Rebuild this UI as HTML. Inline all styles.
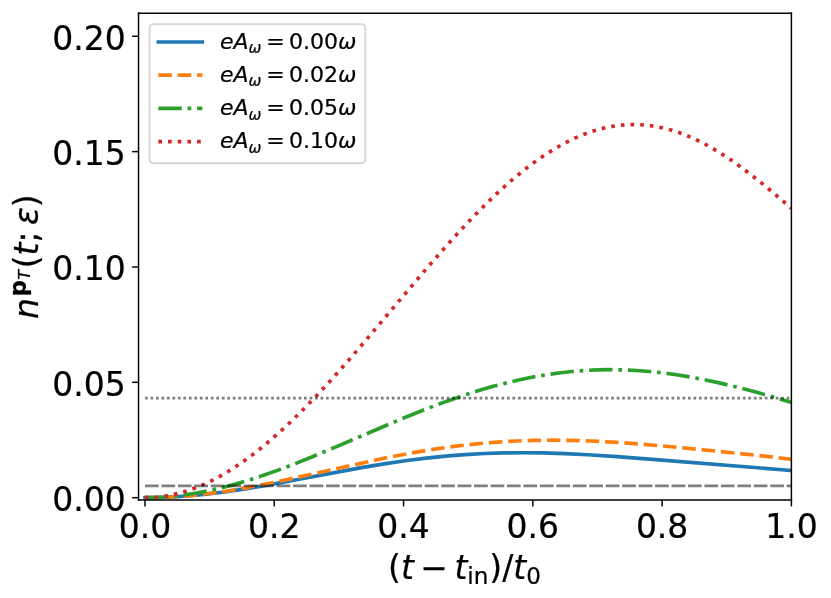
<!DOCTYPE html>
<html lang="en">
<head>
<meta charset="utf-8">
<title>n(t; eps) plot</title>
<style>
html,body{margin:0;padding:0;background:#fff;}
body{width:831px;height:598px;overflow:hidden;font-family:"DejaVu Sans","Liberation Sans",sans-serif;}
svg{display:block;}
svg text{stroke:#000;stroke-width:0.12;}
</style>
</head>
<body>
<svg width="831" height="598" viewBox="0 0 453.272727 326.181818" role="img" aria-label="Line chart of n(t; eps) versus (t - t_in)/t_0">
 <defs>
  <style type="text/css">*{stroke-linejoin: round; stroke-linecap: butt}</style>
 </defs>
 <g id="figure_1">
  <g id="patch_1">
   <path d="M 0 326.181818 
L 453.272727 326.181818 
L 453.272727 0 
L 0 0 
z
" style="fill: #ffffff"/>
  </g>
  <g id="axes_1">
   <g id="patch_2">
    <path d="M 75.565091 272.731227 
L 431.672727 272.731227 
L 431.672727 7.187727 
L 75.565091 7.187727 
z
" style="fill: #ffffff"/>
   </g>
   <g id="matplotlib.axis_1">
    <g id="xtick_1">
     <g id="line2d_1">
      <defs>
       <path id="mc9a33ef753" d="M 0 0 
L 0 3.5 
" style="stroke: #000000; stroke-width: 0.8"/>
      </defs>
      <g>
       <use href="#mc9a33ef753" x="79.090909" y="272.731227" style="stroke: #000000; stroke-width: 0.8"/>
      </g>
     </g>
     <g id="text_1">
      <text style="font-size: 18px; font-family: 'DejaVu Sans', 'Liberation Sans', sans-serif; text-anchor: middle" x="79.090909" y="293.408415" transform="rotate(0 79.090909 293.408415)">0.0</text>
     </g>
    </g>
    <g id="xtick_2">
     <g id="line2d_2">
      <g>
       <use href="#mc9a33ef753" x="149.607273" y="272.731227" style="stroke: #000000; stroke-width: 0.8"/>
      </g>
     </g>
     <g id="text_2">
      <text style="font-size: 18px; font-family: 'DejaVu Sans', 'Liberation Sans', sans-serif; text-anchor: middle" x="149.607273" y="293.408415" transform="rotate(0 149.607273 293.408415)">0.2</text>
     </g>
    </g>
    <g id="xtick_3">
     <g id="line2d_3">
      <g>
       <use href="#mc9a33ef753" x="220.123636" y="272.731227" style="stroke: #000000; stroke-width: 0.8"/>
      </g>
     </g>
     <g id="text_3">
      <text style="font-size: 18px; font-family: 'DejaVu Sans', 'Liberation Sans', sans-serif; text-anchor: middle" x="220.123636" y="293.408415" transform="rotate(0 220.123636 293.408415)">0.4</text>
     </g>
    </g>
    <g id="xtick_4">
     <g id="line2d_4">
      <g>
       <use href="#mc9a33ef753" x="290.64" y="272.731227" style="stroke: #000000; stroke-width: 0.8"/>
      </g>
     </g>
     <g id="text_4">
      <text style="font-size: 18px; font-family: 'DejaVu Sans', 'Liberation Sans', sans-serif; text-anchor: middle" x="290.64" y="293.408415" transform="rotate(0 290.64 293.408415)">0.6</text>
     </g>
    </g>
    <g id="xtick_5">
     <g id="line2d_5">
      <g>
       <use href="#mc9a33ef753" x="361.156364" y="272.731227" style="stroke: #000000; stroke-width: 0.8"/>
      </g>
     </g>
     <g id="text_5">
      <text style="font-size: 18px; font-family: 'DejaVu Sans', 'Liberation Sans', sans-serif; text-anchor: middle" x="361.156364" y="293.408415" transform="rotate(0 361.156364 293.408415)">0.8</text>
     </g>
    </g>
    <g id="xtick_6">
     <g id="line2d_6">
      <g>
       <use href="#mc9a33ef753" x="431.672727" y="272.731227" style="stroke: #000000; stroke-width: 0.8"/>
      </g>
     </g>
     <g id="text_6">
      <text style="font-size: 18px; font-family: 'DejaVu Sans', 'Liberation Sans', sans-serif; text-anchor: middle" x="431.672727" y="293.408415" transform="rotate(0 431.672727 293.408415)">1.0</text>
     </g>
    </g>
    <g id="text_7">
     <!-- $(t-t_{\rm in})/t_0$ -->
     <g transform="translate(211.678909 315.919949)">
      <text>
       <tspan x="0" y="-0.3438" style="font-size: 18px; font-family: 'DejaVu Sans', 'Liberation Sans', sans-serif">(</tspan>
       <tspan x="7.0225" y="-0.3438" style="font-style: oblique; font-size: 18px; font-family: 'DejaVu Sans', 'Liberation Sans', sans-serif">t</tspan>
       <tspan x="17.5869" y="-0.3438" style="font-size: 18px; font-family: 'DejaVu Sans', 'Liberation Sans', sans-serif">−</tspan>
       <tspan x="36.1758" y="-0.3438" style="font-style: oblique; font-size: 18px; font-family: 'DejaVu Sans', 'Liberation Sans', sans-serif">t</tspan>
       <tspan x="43.2334" y="2.6094" style="font-size: 12.6px; font-family: 'DejaVu Sans', 'Liberation Sans', sans-serif">i</tspan>
       <tspan x="46.7341" y="2.6094" style="font-size: 12.6px; font-family: 'DejaVu Sans', 'Liberation Sans', sans-serif">n</tspan>
       <tspan x="55.212" y="-0.3438" style="font-size: 18px; font-family: 'DejaVu Sans', 'Liberation Sans', sans-serif">)</tspan>
       <tspan x="62.2345" y="-0.3438" style="font-size: 18px; font-family: 'DejaVu Sans', 'Liberation Sans', sans-serif">/</tspan>
       <tspan x="68.2989" y="-0.3438" style="font-style: oblique; font-size: 18px; font-family: 'DejaVu Sans', 'Liberation Sans', sans-serif">t</tspan>
       <tspan x="75.3565" y="2.6094" style="font-size: 12.6px; font-family: 'DejaVu Sans', 'Liberation Sans', sans-serif">0</tspan>
      </text>
     </g>
    </g>
   </g>
   <g id="matplotlib.axis_2">
    <g id="ytick_1">
     <g id="line2d_7">
      <defs>
       <path id="m723d47c01b" d="M 0 0 
L -3.5 0 
" style="stroke: #000000; stroke-width: 0.8"/>
      </defs>
      <g>
       <use href="#m723d47c01b" x="75.565091" y="271.472727" style="stroke: #000000; stroke-width: 0.8"/>
      </g>
     </g>
     <g id="text_8">
      <text style="font-size: 18px; font-family: 'DejaVu Sans', 'Liberation Sans', sans-serif; text-anchor: end" x="68.565091" y="278.80223" transform="rotate(0 68.565091 278.80223)">0.00</text>
     </g>
    </g>
    <g id="ytick_2">
     <g id="line2d_8">
      <g>
       <use href="#m723d47c01b" x="75.565091" y="208.547727" style="stroke: #000000; stroke-width: 0.8"/>
      </g>
     </g>
     <g id="text_9">
      <text style="font-size: 18px; font-family: 'DejaVu Sans', 'Liberation Sans', sans-serif; text-anchor: end" x="68.565091" y="215.87723" transform="rotate(0 68.565091 215.87723)">0.05</text>
     </g>
    </g>
    <g id="ytick_3">
     <g id="line2d_9">
      <g>
       <use href="#m723d47c01b" x="75.565091" y="145.622727" style="stroke: #000000; stroke-width: 0.8"/>
      </g>
     </g>
     <g id="text_10">
      <text style="font-size: 18px; font-family: 'DejaVu Sans', 'Liberation Sans', sans-serif; text-anchor: end" x="68.565091" y="152.95223" transform="rotate(0 68.565091 152.95223)">0.10</text>
     </g>
    </g>
    <g id="ytick_4">
     <g id="line2d_10">
      <g>
       <use href="#m723d47c01b" x="75.565091" y="82.697727" style="stroke: #000000; stroke-width: 0.8"/>
      </g>
     </g>
     <g id="text_11">
      <text style="font-size: 18px; font-family: 'DejaVu Sans', 'Liberation Sans', sans-serif; text-anchor: end" x="68.565091" y="90.02723" transform="rotate(0 68.565091 90.02723)">0.15</text>
     </g>
    </g>
    <g id="ytick_5">
     <g id="line2d_11">
      <g>
       <use href="#m723d47c01b" x="75.565091" y="19.772727" style="stroke: #000000; stroke-width: 0.8"/>
      </g>
     </g>
     <g id="text_12">
      <text style="font-size: 18px; font-family: 'DejaVu Sans', 'Liberation Sans', sans-serif; text-anchor: end" x="68.565091" y="27.10223" transform="rotate(0 68.565091 27.10223)">0.20</text>
     </g>
    </g>
    <g id="text_13">
     <!-- $n^{\mathbf{p}_T}(t;\varepsilon)$ -->
     <g transform="translate(20.743528 173.979477) rotate(-90)">
      <text>
       <tspan x="0" y="-0.0547" style="font-style: oblique; font-size: 18px; font-family: 'DejaVu Sans', 'Liberation Sans', sans-serif">n</tspan>
       <tspan x="12.2449" y="-6.2953" style="font-weight: 700; font-size: 12.6px; font-family: 'DejaVu Sans', 'Liberation Sans', sans-serif">p</tspan>
       <tspan x="21.3848" y="-4.2281" style="font-style: oblique; font-size: 8.82px; font-family: 'DejaVu Sans', 'Liberation Sans', sans-serif">T</tspan>
       <tspan x="27.6092" y="-0.0547" style="font-size: 18px; font-family: 'DejaVu Sans', 'Liberation Sans', sans-serif">(</tspan>
       <tspan x="34.6316" y="-0.0547" style="font-style: oblique; font-size: 18px; font-family: 'DejaVu Sans', 'Liberation Sans', sans-serif">t</tspan>
       <tspan x="41.6892" y="-0.0547" style="font-size: 18px; font-family: 'DejaVu Sans', 'Liberation Sans', sans-serif">;</tspan>
       <tspan x="51.2605" y="-0.0547" style="font-style: oblique; font-size: 18px; font-family: 'DejaVu Sans', 'Liberation Sans', sans-serif">ε</tspan>
       <tspan x="60.99" y="-0.0547" style="font-size: 18px; font-family: 'DejaVu Sans', 'Liberation Sans', sans-serif">)</tspan>
      </text>
     </g>
    </g>
   </g>
   <g id="line2d_12">
    <path d="M 79.090909 271.472727 
L 86.142545 271.383256 
L 94.957091 271.024718 
L 103.771636 270.405379 
L 112.586182 269.545495 
L 121.400727 268.47043 
L 131.978182 266.93779 
L 144.318545 264.886344 
L 160.184727 261.977639 
L 197.205818 255.063638 
L 209.546182 253.015556 
L 221.886545 251.208897 
L 232.464 249.889206 
L 243.041455 248.803727 
L 253.618909 247.965486 
L 264.196364 247.379159 
L 274.773818 247.041317 
L 285.351273 246.940927 
L 295.928727 247.060075 
L 308.269091 247.444501 
L 320.609455 248.049419 
L 336.475636 249.068469 
L 359.393455 250.810088 
L 428.146909 256.344277 
L 431.672727 256.693755 
L 431.672727 256.693755 
" clip-path="url(#pac0784d7d8)" style="fill: none; stroke: #1f77b4; stroke-width: 2; stroke-linecap: square"/>
   </g>
   <g id="line2d_13">
    <path d="M 79.090909 271.472727 
L 86.142545 271.37701 
L 93.194182 271.091557 
L 100.245818 270.621363 
L 109.060364 269.786145 
L 117.874909 268.695752 
L 126.689455 267.376098 
L 137.266909 265.532086 
L 147.844364 263.45784 
L 161.947636 260.438749 
L 211.309091 249.564702 
L 223.649455 247.212064 
L 234.226909 245.41882 
L 244.804364 243.86299 
L 255.381818 242.566 
L 264.196364 241.692778 
L 273.010909 241.012193 
L 281.825455 240.523945 
L 290.64 240.224134 
L 301.217455 240.102672 
L 311.794909 240.223725 
L 322.372364 240.563759 
L 334.712727 241.200201 
L 348.816 242.184309 
L 364.682182 243.53067 
L 385.837091 245.564142 
L 414.043636 248.498227 
L 431.672727 250.510147 
L 431.672727 250.510147 
" clip-path="url(#pac0784d7d8)" style="fill: none; stroke-dasharray: 7.37928,3.19104; stroke-dashoffset: 0; stroke: #ff7f0e; stroke-width: 2"/>
   </g>
   <g id="line2d_14">
    <path d="M 79.090909 271.472727 
L 84.379636 271.380332 
L 89.668364 271.105799 
L 94.957091 270.65372 
L 100.245818 270.029448 
L 107.297455 268.939781 
L 114.349091 267.570909 
L 121.400727 265.940687 
L 128.452364 264.068503 
L 135.504 261.975045 
L 142.555636 259.68208 
L 151.370182 256.56986 
L 160.184727 253.226923 
L 170.762182 248.976535 
L 184.865455 243.037573 
L 221.886545 227.276859 
L 232.464 223.054868 
L 243.041455 219.081088 
L 251.856 216.001357 
L 260.670545 213.164673 
L 269.485091 210.597814 
L 276.536727 208.754316 
L 283.588364 207.108593 
L 290.64 205.669245 
L 297.691636 204.443278 
L 304.743273 203.43608 
L 311.794909 202.651409 
L 318.846545 202.091393 
L 325.898182 201.75653 
L 332.949818 201.645705 
L 340.001455 201.756212 
L 347.053091 202.083786 
L 354.104727 202.62264 
L 361.156364 203.365519 
L 368.208 204.303752 
L 375.259636 205.427324 
L 384.074182 207.075109 
L 392.888727 208.970126 
L 401.703273 211.085128 
L 412.280727 213.871779 
L 424.621091 217.396244 
L 431.672727 219.509089 
L 431.672727 219.509089 
" clip-path="url(#pac0784d7d8)" style="fill: none; stroke-dasharray: 12.76416,3.19104,1.9944,3.19104; stroke-dashoffset: 0; stroke: #2ca02c; stroke-width: 2"/>
   </g>
   <g id="line2d_15">
    <path d="M 79.090909 271.472727 
L 82.616727 271.382628 
L 86.142545 271.113138 
L 89.668364 270.66565 
L 93.194182 270.041801 
L 96.72 269.243468 
L 100.245818 268.272764 
L 103.771636 267.132036 
L 107.297455 265.82386 
L 110.823273 264.351038 
L 116.112 261.839769 
L 121.400727 258.97602 
L 126.689455 255.771977 
L 131.978182 252.240858 
L 137.266909 248.396877 
L 142.555636 244.255206 
L 147.844364 239.83193 
L 153.133091 235.144007 
L 158.421818 230.209223 
L 165.473455 223.277701 
L 172.525091 215.986417 
L 179.576727 208.383476 
L 188.391273 198.517833 
L 198.968727 186.282148 
L 214.834909 167.495126 
L 232.464 146.694103 
L 243.041455 134.599035 
L 251.856 124.906693 
L 258.907636 117.481787 
L 265.959273 110.405908 
L 271.248 105.358437 
L 276.536727 100.556162 
L 281.825455 96.018798 
L 287.114182 91.765198 
L 292.402909 87.813258 
L 297.691636 84.179826 
L 302.980364 80.880601 
L 308.269091 77.930034 
L 313.557818 75.341227 
L 317.083636 73.822149 
L 320.609455 72.472132 
L 324.135273 71.293927 
L 327.661091 70.289945 
L 331.186909 69.462249 
L 334.712727 68.812536 
L 338.238545 68.342123 
L 341.764364 68.051931 
L 345.290182 67.942473 
L 348.816 68.013834 
L 352.341818 68.265661 
L 355.867636 68.697142 
L 359.393455 69.306993 
L 362.919273 70.093444 
L 366.445091 71.054219 
L 369.970909 72.18652 
L 373.496727 73.487015 
L 377.022545 74.951815 
L 382.311273 77.447175 
L 387.6 80.28451 
L 392.888727 83.443171 
L 398.177455 86.899269 
L 403.466182 90.625545 
L 408.754909 94.591229 
L 415.806545 100.191193 
L 424.621091 107.561485 
L 431.672727 113.624408 
L 431.672727 113.624408 
" clip-path="url(#pac0784d7d8)" style="fill: none; stroke-dasharray: 1.9944,3.29076; stroke-dashoffset: 0; stroke: #d62728; stroke-width: 2"/>
   </g>
   <g id="line2d_16">
    <path d="M 79.090909 217.092942 
L 431.672727 217.092942 
" clip-path="url(#pac0784d7d8)" style="fill: none; stroke-dasharray: 1.4958,1.4958; stroke-dashoffset: 0; stroke: #000000; stroke-opacity: 0.5; stroke-width: 1.5"/>
   </g>
   <g id="line2d_17">
    <path d="M 79.090909 265.016622 
L 431.672727 265.016622 
" clip-path="url(#pac0784d7d8)" style="fill: none; stroke-dasharray: 7.479,1.4958; stroke-dashoffset: 0; stroke: #000000; stroke-opacity: 0.5; stroke-width: 1.5"/>
   </g>
   <g id="patch_3">
    <path d="M 75.565091 272.731227 
L 75.565091 7.187727 
" style="fill: none; stroke: #000000; stroke-width: 0.8; stroke-linejoin: miter; stroke-linecap: square"/>
   </g>
   <g id="patch_4">
    <path d="M 431.672727 272.731227 
L 431.672727 7.187727 
" style="fill: none; stroke: #000000; stroke-width: 0.8; stroke-linejoin: miter; stroke-linecap: square"/>
   </g>
   <g id="patch_5">
    <path d="M 75.565091 272.731227 
L 431.672727 272.731227 
" style="fill: none; stroke: #000000; stroke-width: 0.8; stroke-linejoin: miter; stroke-linecap: square"/>
   </g>
   <g id="patch_6">
    <path d="M 75.565091 7.187727 
L 431.672727 7.187727 
" style="fill: none; stroke: #000000; stroke-width: 0.8; stroke-linejoin: miter; stroke-linecap: square"/>
   </g>
   <g id="legend_1">
    <g id="patch_7">
     <path d="M 83.965091 89.048727 
L 196.885091 89.048727 
Q 199.285091 89.048727 199.285091 86.648727 
L 199.285091 15.587727 
Q 199.285091 13.187727 196.885091 13.187727 
L 83.965091 13.187727 
Q 81.565091 13.187727 81.565091 15.587727 
L 81.565091 86.648727 
Q 81.565091 89.048727 83.965091 89.048727 
z
" style="fill: #ffffff; opacity: 0.8; stroke: #cccccc; stroke-linejoin: miter"/>
    </g>
    <g id="line2d_18">
     <path d="M 86.365091 22.905852 
L 98.365091 22.905852 
L 110.365091 22.905852 
" style="fill: none; stroke: #1f77b4; stroke-width: 2; stroke-linecap: square"/>
    </g>
    <g id="text_14">
     <!-- $eA_\omega=0.00\omega$ -->
     <g transform="translate(119.965091 27.105852)">
      <text>
       <tspan x="0" y="-0.5337" style="font-style: oblique; font-size: 12px; font-family: 'DejaVu Sans', 'Liberation Sans', sans-serif">e</tspan>
       <tspan x="7.3828" y="-0.5337" style="font-style: oblique; font-size: 12px; font-family: 'DejaVu Sans', 'Liberation Sans', sans-serif">A</tspan>
       <tspan x="15.5918" y="1.875" style="font-style: oblique; font-size: 8.4px; font-family: 'DejaVu Sans', 'Liberation Sans', sans-serif">ω</tspan>
       <tspan x="25.292" y="-0.5337" style="font-size: 12px; font-family: 'DejaVu Sans', 'Liberation Sans', sans-serif">=</tspan>
       <tspan x="37.6846" y="-0.5337" style="font-size: 12px; font-family: 'DejaVu Sans', 'Liberation Sans', sans-serif">0.00</tspan>
       <tspan x="64.4033" y="-0.5337" style="font-style: oblique; font-size: 12px; font-family: 'DejaVu Sans', 'Liberation Sans', sans-serif">ω</tspan>
      </text>
     </g>
    </g>
    <g id="line2d_19">
     <path d="M 86.365091 41.011602 
L 98.365091 41.011602 
L 110.365091 41.011602 
" style="fill: none; stroke-dasharray: 7.37928,3.19104; stroke-dashoffset: 0; stroke: #ff7f0e; stroke-width: 2"/>
    </g>
    <g id="text_15">
     <!-- $eA_\omega=0.02\omega$ -->
     <g transform="translate(119.965091 45.211602)">
      <text>
       <tspan x="0" y="-0.5337" style="font-style: oblique; font-size: 12px; font-family: 'DejaVu Sans', 'Liberation Sans', sans-serif">e</tspan>
       <tspan x="7.3828" y="-0.5337" style="font-style: oblique; font-size: 12px; font-family: 'DejaVu Sans', 'Liberation Sans', sans-serif">A</tspan>
       <tspan x="15.5918" y="1.875" style="font-style: oblique; font-size: 8.4px; font-family: 'DejaVu Sans', 'Liberation Sans', sans-serif">ω</tspan>
       <tspan x="25.292" y="-0.5337" style="font-size: 12px; font-family: 'DejaVu Sans', 'Liberation Sans', sans-serif">=</tspan>
       <tspan x="37.6846" y="-0.5337" style="font-size: 12px; font-family: 'DejaVu Sans', 'Liberation Sans', sans-serif">0.02</tspan>
       <tspan x="64.4033" y="-0.5337" style="font-style: oblique; font-size: 12px; font-family: 'DejaVu Sans', 'Liberation Sans', sans-serif">ω</tspan>
      </text>
     </g>
    </g>
    <g id="line2d_20">
     <path d="M 86.365091 59.117352 
L 98.365091 59.117352 
L 110.365091 59.117352 
" style="fill: none; stroke-dasharray: 12.76416,3.19104,1.9944,3.19104; stroke-dashoffset: 0; stroke: #2ca02c; stroke-width: 2"/>
    </g>
    <g id="text_16">
     <!-- $eA_\omega=0.05\omega$ -->
     <g transform="translate(119.965091 63.317352)">
      <text>
       <tspan x="0" y="-0.5337" style="font-style: oblique; font-size: 12px; font-family: 'DejaVu Sans', 'Liberation Sans', sans-serif">e</tspan>
       <tspan x="7.3828" y="-0.5337" style="font-style: oblique; font-size: 12px; font-family: 'DejaVu Sans', 'Liberation Sans', sans-serif">A</tspan>
       <tspan x="15.5918" y="1.875" style="font-style: oblique; font-size: 8.4px; font-family: 'DejaVu Sans', 'Liberation Sans', sans-serif">ω</tspan>
       <tspan x="25.292" y="-0.5337" style="font-size: 12px; font-family: 'DejaVu Sans', 'Liberation Sans', sans-serif">=</tspan>
       <tspan x="37.6846" y="-0.5337" style="font-size: 12px; font-family: 'DejaVu Sans', 'Liberation Sans', sans-serif">0.05</tspan>
       <tspan x="64.4033" y="-0.5337" style="font-style: oblique; font-size: 12px; font-family: 'DejaVu Sans', 'Liberation Sans', sans-serif">ω</tspan>
      </text>
     </g>
    </g>
    <g id="line2d_21">
     <path d="M 86.365091 77.223102 
L 98.365091 77.223102 
L 110.365091 77.223102 
" style="fill: none; stroke-dasharray: 1.9944,3.29076; stroke-dashoffset: 0; stroke: #d62728; stroke-width: 2"/>
    </g>
    <g id="text_17">
     <!-- $eA_\omega=0.10\omega$ -->
     <g transform="translate(119.965091 81.423102)">
      <text>
       <tspan x="0" y="-0.5337" style="font-style: oblique; font-size: 12px; font-family: 'DejaVu Sans', 'Liberation Sans', sans-serif">e</tspan>
       <tspan x="7.3828" y="-0.5337" style="font-style: oblique; font-size: 12px; font-family: 'DejaVu Sans', 'Liberation Sans', sans-serif">A</tspan>
       <tspan x="15.5918" y="1.875" style="font-style: oblique; font-size: 8.4px; font-family: 'DejaVu Sans', 'Liberation Sans', sans-serif">ω</tspan>
       <tspan x="25.292" y="-0.5337" style="font-size: 12px; font-family: 'DejaVu Sans', 'Liberation Sans', sans-serif">=</tspan>
       <tspan x="37.6846" y="-0.5337" style="font-size: 12px; font-family: 'DejaVu Sans', 'Liberation Sans', sans-serif">0.10</tspan>
       <tspan x="64.4033" y="-0.5337" style="font-style: oblique; font-size: 12px; font-family: 'DejaVu Sans', 'Liberation Sans', sans-serif">ω</tspan>
      </text>
     </g>
    </g>
   </g>
  </g>
 </g>
 <defs>
  <clipPath id="pac0784d7d8">
   <rect x="75.565091" y="7.187727" width="356.107636" height="265.5435"/>
  </clipPath>
 </defs>
</svg>

</body>
</html>
